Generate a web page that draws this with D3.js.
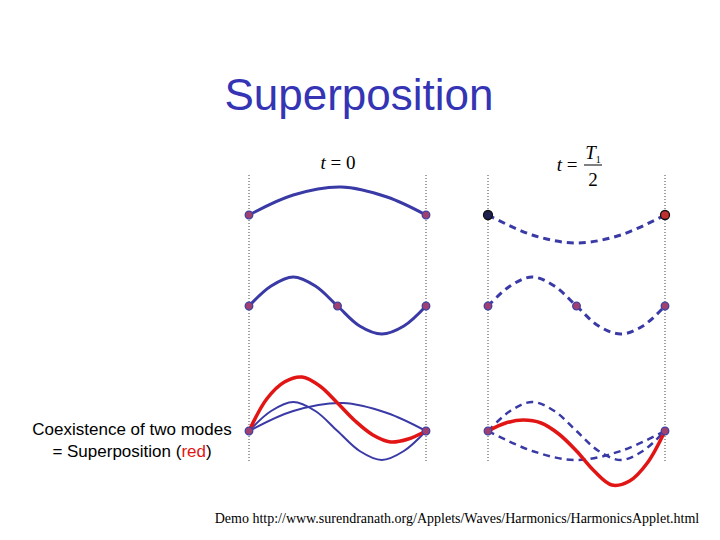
<!DOCTYPE html><html><head><meta charset="utf-8"><script src="https://cdn.jsdelivr.net/npm/d3@7"></script>
<style>body{margin:0;background:#fff}</style></head><body><svg id="c" width="720" height="540"></svg>
<script>
// curve control points: [fraction along string, displacement in px (negative = up)]
const row1Left  = [[0,0],[0.25,-20],[0.52,-28],[0.78,-18],[1,0]];
const row1Right = [[0,0],[0.25,20],[0.5,28],[0.75,20],[1,0]];
const row2Left  = [[0,0],[0.125,-20],[0.25,-29],[0.375,-20],[0.5,0],[0.625,20],[0.75,28],[0.875,20],[1,0]];
const row2Right = [[0,0],[0.125,-20],[0.25,-29],[0.375,-20],[0.5,0],[0.625,20],[0.75,28],[0.875,20],[1,0]];
const row3LeftM1 = [[0,0],[0.25,-20],[0.53,-28],[0.78,-18],[1,0]];
const row3LeftM2 = [[0,0],[0.125,-20],[0.25,-29],[0.375,-20],[0.5,0],[0.625,20],[0.75,29],[0.875,20],[1,0]];
const row3LeftSum = [[0,0],[0.1,-32],[0.2,-49],[0.3,-54],[0.4,-45],[0.5,-28],[0.6,-10],[0.7,4],[0.8,11],[0.9,8],[1,0]];
const row3RightM1 = [[0,0],[0.25,20],[0.5,29],[0.75,20],[1,0]];
const row3RightM2 = [[0,0],[0.125,-20],[0.25,-29],[0.375,-20],[0.5,0],[0.625,20],[0.75,29],[0.875,20],[1,0]];
const row3RightSum = [[0,0],[0.1,-8],[0.2,-11],[0.3,-8],[0.4,3],[0.5,20],[0.6,40],[0.7,54],[0.8,50],[0.9,32],[1,0]];
const panels = [249, 488];
const baselines = [215, 306, 431];
const svg = d3.select("#c");
const blue = "#3a3aa6", red = "#e21515";
svg.append("text").attr("x",359).attr("y",110).attr("text-anchor","middle").attr("font-family","Liberation Sans, Arial").attr("font-size",44).attr("fill","#3434b4").text("Superposition");
panels.forEach(px=>{[0,177].forEach(dx=>svg.append("line").attr("x1",px+dx).attr("x2",px+dx).attr("y1",175).attr("y2",462).attr("stroke","#444").attr("stroke-width",1).attr("stroke-dasharray","1,2"));});
function draw(pts, pi, ri, color, w, dashed){
  const x = d3.scaleLinear([0,1],[panels[pi],panels[pi]+177]);
  const y = d3.scaleLinear([0,1],[baselines[ri],baselines[ri]+1]);
  const line = d3.line().x(d=>x(d[0])).y(d=>y(d[1])).curve(d3.curveCatmullRom.alpha(0.5));
  svg.append("path").attr("d",line(pts)).attr("fill","none").attr("stroke",color).attr("stroke-width",w).attr("stroke-dasharray",dashed?"7,5":null);
}
draw(row1Left,0,0,blue,3,false);
draw(row1Right,1,0,blue,3,true);
draw(row2Left,0,1,blue,3,false);
draw(row2Right,1,1,blue,3,true);
draw(row3LeftM1,0,2,blue,2,false);
draw(row3LeftM2,0,2,blue,2,false);
draw(row3LeftSum,0,2,red,3.5,false);
draw(row3RightM1,1,2,blue,2.5,true);
draw(row3RightM2,1,2,blue,2.5,true);
draw(row3RightSum,1,2,red,3.5,false);
const dots=[[0,0,[0,1]],[1,0,[0,1]],[0,1,[0,0.5,1]],[1,1,[0,0.5,1]],[0,2,[0,1]],[1,2,[0,1]]];
dots.forEach(([pi,ri,fs])=>fs.forEach(f=>{
  const dark = pi===1&&ri===0;
  svg.append("circle").attr("cx",panels[pi]+f*177).attr("cy",baselines[ri]).attr("r",dark?4.5:3.8)
   .attr("fill",dark?(f===0?"#202050":"#c03030"):"#a04070").attr("stroke",dark?"#101010":"#4040a0").attr("stroke-width",1.3);
}));
const serif="Liberation Serif, Times New Roman";
svg.append("text").attr("x",338).attr("y",169).attr("text-anchor","middle").attr("font-family",serif).attr("font-size",19).html('<tspan font-style="italic">t</tspan> = 0');
svg.append("text").attr("x",567).attr("y",171).attr("text-anchor","middle").attr("font-family",serif).attr("font-size",19).html('<tspan font-style="italic">t</tspan> =');
svg.append("text").attr("x",593).attr("y",159).attr("text-anchor","middle").attr("font-family",serif).attr("font-size",19).html('<tspan font-style="italic">T</tspan><tspan font-size="10" dy="4">1</tspan>');
svg.append("line").attr("x1",584).attr("x2",602).attr("y1",165).attr("y2",165).attr("stroke","#000").attr("stroke-width",1);
svg.append("text").attr("x",593).attr("y",186).attr("text-anchor","middle").attr("font-family",serif).attr("font-size",19).text("2");
const sans="Liberation Sans, Arial";
svg.append("text").attr("x",132).attr("y",435).attr("text-anchor","middle").attr("font-family",sans).attr("font-size",17).text("Coexistence of two modes");
svg.append("text").attr("x",132).attr("y",457).attr("text-anchor","middle").attr("font-family",sans).attr("font-size",17).html('= Superposition (<tspan fill="#e21515">red</tspan>)');
svg.append("text").attr("x",457).attr("y",523).attr("text-anchor","middle").attr("font-family",serif).attr("font-size",14).text("Demo http://www.surendranath.org/Applets/Waves/Harmonics/HarmonicsApplet.html");
</script></body></html>
